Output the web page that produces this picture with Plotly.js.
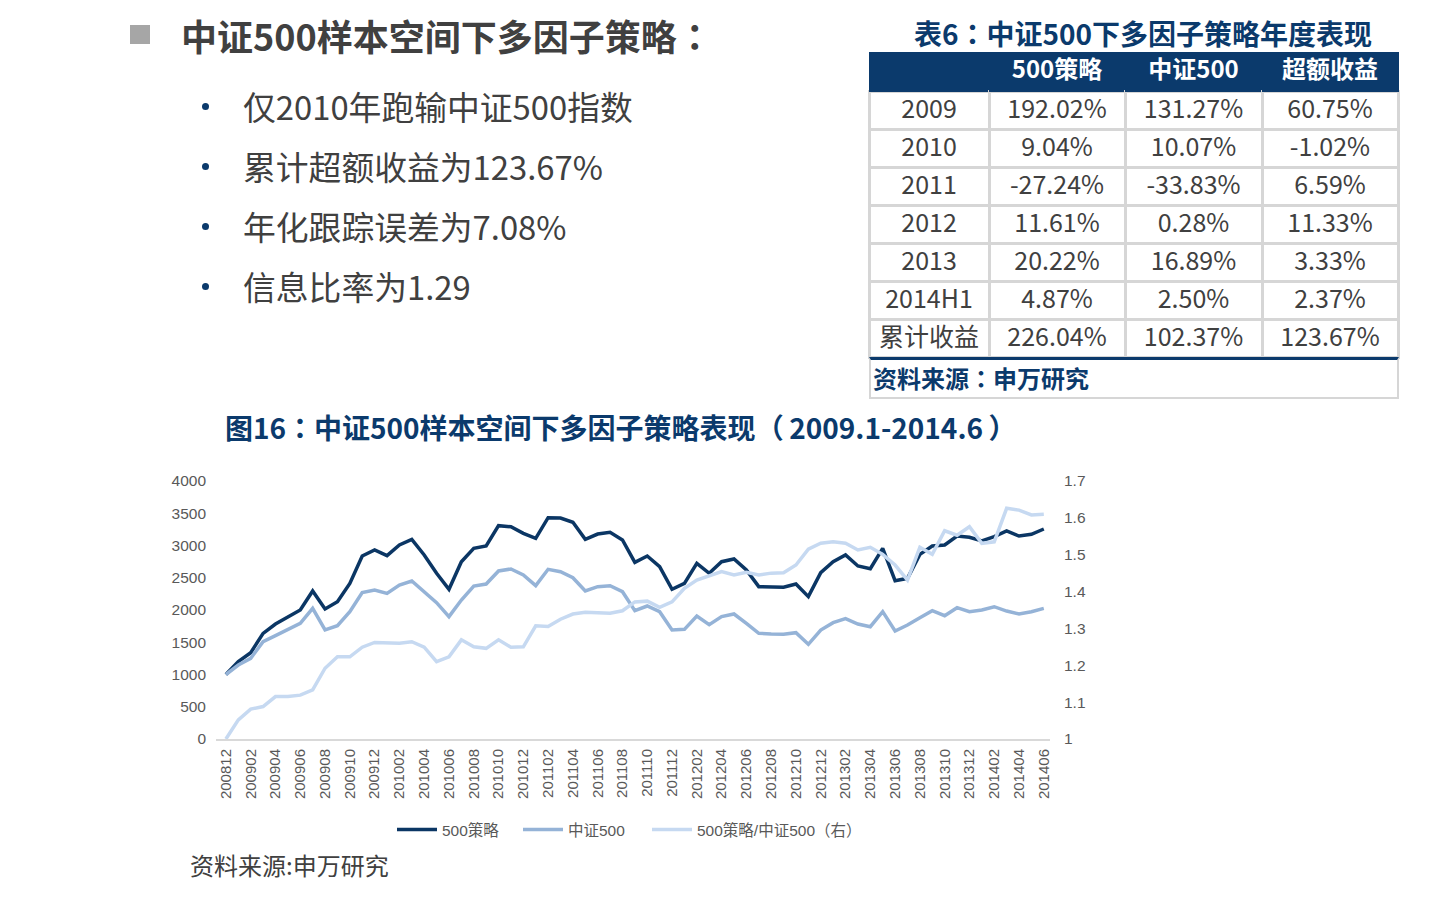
<!DOCTYPE html>
<html>
<head>
<meta charset="utf-8">
<script src="https://cdn.plot.ly/plotly-3.0.1.min.js"></script>
<style>
  html, body { margin:0; padding:0; background:#ffffff; }
  body { width:1440px; height:900px; position:relative; overflow:hidden; font-family:"Noto Sans CJK SC","Noto Sans",sans-serif; }
  #plot { position:absolute; left:0; top:0; width:1440px; height:900px; }
  .t { position:absolute; white-space:nowrap; line-height:1; z-index:5; }
  .p { font-family:"Noto Sans CJK TC","Noto Sans CJK SC",sans-serif; }
  .po { margin-right:0.2em; }
  .pc { margin-left:0.2em; }
</style>
</head>
<body>
<div id="plot"></div>
<div id="overlay"></div>
<script>
// ---------------- data ----------------
const months = ['200812','200901','200902','200903','200904','200905','200906','200907','200908','200909','200910','200911','200912',
  '201001','201002','201003','201004','201005','201006','201007','201008','201009','201010','201011','201012',
  '201101','201102','201103','201104','201105','201106','201107','201108','201109','201110','201111','201112',
  '201201','201202','201203','201204','201205','201206','201207','201208','201209','201210','201211','201212',
  '201301','201302','201303','201304','201305','201306','201307','201308','201309','201310','201311','201312',
  '201401','201402','201403','201404','201405','201406'];
const tickLabels = ['200812','200902','200904','200906','200908','200910','200912','201002','201004','201006','201008','201010','201012',
  '201102','201104','201106','201108','201110','201112','201202','201204','201206','201208','201210','201212',
  '201302','201304','201306','201308','201310','201312','201402','201404','201406'];
const strategy = [1000,1199,1338,1638,1783,1897,2000,2295,2015,2129,2413,2837,2930,2842,3008,3096,2853,2569,2321,2749,
  2956,2992,3307,3291,3189,3111,3431,3426,3359,3096,3178,3204,3085,2739,2837,2672,2321,2413,2724,2569,
  2749,2791,2620,2362,2352,2352,2403,2207,2579,2749,2853,2682,2641,2956,2455,2491,2863,2992,3008,3147,
  3127,3070,3137,3225,3147,3173,3256];
const csi500 = [1000,1147,1251,1509,1602,1700,1793,2026,1690,1757,1974,2269,2310,2258,2388,2450,2284,2114,1897,2155,
  2372,2403,2605,2636,2543,2377,2631,2594,2501,2295,2362,2377,2284,1989,2062,1974,1690,1700,1907,1772,
  1897,1938,1793,1638,1628,1623,1648,1468,1690,1804,1866,1783,1741,1974,1674,1767,1881,1989,1912,2036,
  1974,2000,2051,1984,1938,1974,2026];
const ratio = [1.000,1.052,1.081,1.088,1.115,1.115,1.119,1.133,1.192,1.223,1.223,1.249,1.262,1.260,1.260,1.264,1.249,1.210,1.223,1.269,
  1.250,1.246,1.269,1.249,1.250,1.307,1.305,1.325,1.339,1.344,1.343,1.341,1.348,1.372,1.374,1.357,1.372,1.409,1.431,1.442,
  1.454,1.445,1.452,1.445,1.450,1.451,1.472,1.515,1.531,1.535,1.531,1.513,1.520,1.501,1.472,1.431,1.520,1.501,1.565,1.553,
  1.576,1.531,1.535,1.626,1.621,1.608,1.610];
const seriesNames = ['500策略','中证500','500策略/中证500（右）'];

const tableHeader = ['', '500策略', '中证500', '超额收益'];
const periods = ['2009','2010','2011','2012','2013','2014H1','累计收益'];
const strategyRet = ['192.02%','9.04%','-27.24%','11.61%','20.22%','4.87%','226.04%'];
const indexRet = ['131.27%','10.07%','-33.83%','0.28%','16.89%','2.50%','102.37%'];
const excessRet = ['60.75%','-1.02%','6.59%','11.33%','3.33%','2.37%','123.67%'];

const heading = '中证500样本空间下多因子策略：';
const bullets = ['仅2010年跑输中证500指数','累计超额收益为123.67%','年化跟踪误差为7.08%','信息比率为1.29'];
const tableTitle = '表6：中证500下多因子策略年度表现';
const tableSource = '资料来源：申万研究';
const chartTitle = '图16：中证500样本空间下多因子策略表现（2009.1-2014.6）';
const chartSource = '资料来源:申万研究';

// ---------------- layout helpers ----------------
const W = 1440, H = 900;
const py = v => 1 - v / H;   // pixel y -> paper
const px = v => v / W;       // pixel x -> paper

const NAVY = '#0b3a6c';
const C1 = '#0b3664', C2 = '#95b3d7', C3 = '#c6d9f1';
const CHART_FONT = 'Liberation Sans, Arial, Noto Sans CJK TC, Noto Sans CJK SC, sans-serif';

const traces = [
  { type:'scatter', mode:'lines', x: months, y: strategy, name: seriesNames[0], line:{color:C1, width:3.5}, yaxis:'y', legend:'legend', hoverinfo:'skip' },
  { type:'scatter', mode:'lines', x: months, y: csi500, name: seriesNames[1], line:{color:C2, width:3.5}, yaxis:'y', legend:'legend2', hoverinfo:'skip' },
  { type:'scatter', mode:'lines', x: months, y: ratio, name: seriesNames[2], line:{color:C3, width:3.5}, yaxis:'y2', legend:'legend3', hoverinfo:'skip' },
  { type:'table',
    domain:{ x:[px(869), px(1398)], y:[py(400), py(52)] },
    columnwidth:[120,136,137,136],
    header:{ values: tableHeader, height:39, align:'center',
      fill:{color:NAVY}, line:{color:NAVY, width:1},
      font:{family:'Noto Sans CJK SC', size:24, color:'#ffffff', weight:'bold'} },
    cells:{ values:[periods, strategyRet, indexRet, excessRet], height:38, align:'center',
      fill:{color:'#ffffff'}, line:{color:'#d6d6d6', width:3},
      font:{family:'Noto Sans CJK SC', size:25, color:'#404040'} }
  }
];

function legendAt(leftPx) {
  return { orientation:'h', x: px(leftPx), xanchor:'left', y: py(830), yanchor:'middle',
    font:{family: CHART_FONT, size:15.5, color:'#595959'}, bgcolor:'rgba(0,0,0,0)', itemwidth:40 };
}

const layout = {
  width: W, height: H,
  margin:{l:0, r:0, t:0, b:0},
  paper_bgcolor:'#ffffff', plot_bgcolor:'#ffffff',
  font:{family: CHART_FONT, color:'#595959', size:15},
  showlegend: true,
  legend: legendAt(392),
  legend2: legendAt(518),
  legend3: legendAt(647),
  xaxis:{ domain:[px(216), px(1050)], type:'category', range:[-0.8, 66.5],
    tickmode:'array', tickvals: tickLabels, ticktext: tickLabels, tickangle:-90,
    showgrid:false, zeroline:false, showline:true, linecolor:'#d9d9d9', linewidth:2, ticks:'',
    tickfont:{family: CHART_FONT, size:15, color:'#595959'}, ticklabelstandoff:2, fixedrange:true },
  yaxis:{ domain:[py(739), py(481)], range:[0, 4000], dtick:500, showgrid:false, zeroline:false, showline:false, ticks:'',
    tickfont:{family: CHART_FONT, size:15.5, color:'#595959'}, ticklabelstandoff:9, fixedrange:true },
  yaxis2:{ overlaying:'y', side:'right', range:[1, 1.7], dtick:0.1, showgrid:false, zeroline:false, showline:false, ticks:'',
    tickfont:{family: CHART_FONT, size:15.5, color:'#595959'}, ticklabelstandoff:13, fixedrange:true }
};

Plotly.newPlot('plot', traces, layout, {displayModeBar:false, staticPlot:true});

// ---------------- text overlays ----------------
const ov = document.getElementById('overlay');
// wraps fullwidth punctuation in spans so it is spaced like the reference
function punct(txt) {
  return txt.replace(/[&<>]/g, c => ({'&':'&amp;','<':'&lt;','>':'&gt;'}[c]))
            .replace(/：/g, '<span class="p">：</span>')
            .replace(/（/g, '<span class="p po">（</span>')
            .replace(/）/g, '<span class="p pc">）</span>');
}
function addText(txt, left, top, size, color, bold) {
  const d = document.createElement('div');
  d.className = 't';
  d.innerHTML = punct(txt);
  d.style.left = left + 'px';
  d.style.top = top + 'px';
  d.style.fontSize = size + 'px';
  d.style.color = color;
  d.style.fontWeight = bold ? '700' : '400';
  ov.appendChild(d);
  return d;
}
function addBox(styles) {
  const b = document.createElement('div');
  Object.assign(b.style, {position:'absolute', boxSizing:'border-box'}, styles);
  ov.appendChild(b);
  return b;
}
// gray square marker
addBox({left:'130px', top:'25px', width:'20px', height:'19px', background:'#a6a6a6', zIndex:5});
addText(heading, 181, 17, 36, '#404040', true);
bullets.forEach((b, i) => {
  const cy = 106 + i * 60;
  addBox({left:'202px', top:(cy - 3) + 'px', width:'7px', height:'7px', borderRadius:'50%', background:NAVY, zIndex:5});
  addText(b, 243, cy - 16.5, 32.8, '#404040', false);
});
addText(tableTitle, 914, 19, 28, NAVY, true);
// table source row
addBox({left:'869px', top:'357px', width:'530px', height:'42px',
  borderTop:'3px solid ' + NAVY, borderLeft:'2px solid #d6d6d6', borderRight:'2px solid #d6d6d6', borderBottom:'2px solid #d6d6d6',
  background:'#ffffff', zIndex:4});
addText(tableSource, 873, 366, 24, NAVY, true);
addText(chartTitle, 225, 413, 28, NAVY, true);
addText(chartSource, 190, 853, 24, '#404040', false);
</script>
</body>
</html>
